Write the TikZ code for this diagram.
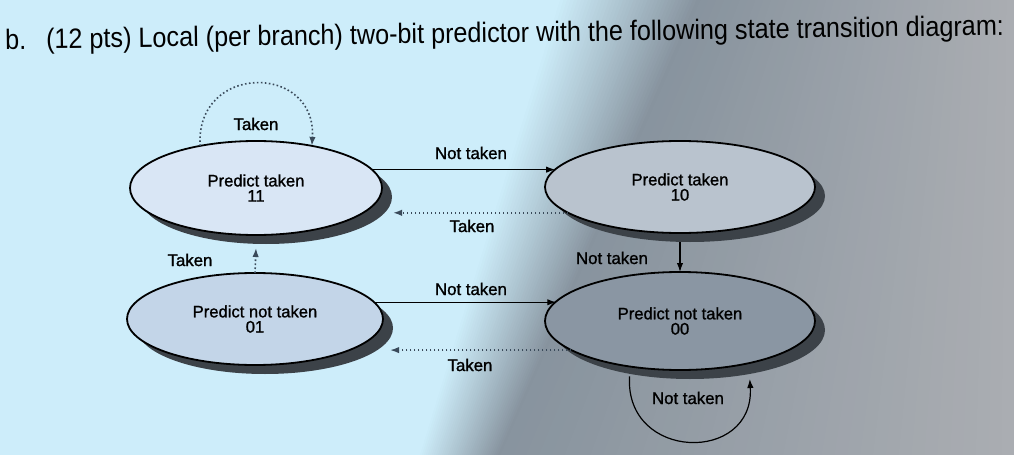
\documentclass[tikz,border=0pt]{standalone}
\usepackage{fontspec}
\setmainfont{Liberation Sans}
\newfontfamily\semib[FakeBold=1.2]{Liberation Sans}
\usetikzlibrary{shapes.geometric,arrows.meta,shadows,calc}
\definecolor{bgL}{HTML}{CDEDFA}
\definecolor{bgM}{HTML}{87939E}
\definecolor{bgR}{HTML}{AAADB2}
\definecolor{fillA}{HTML}{D9E6F5}
\definecolor{fillB}{HTML}{B9C3CE}
\definecolor{fillC}{HTML}{C3D5E8}
\definecolor{fillD}{HTML}{8A96A3}
\definecolor{shadowc}{HTML}{3C4248}
\definecolor{dotc}{HTML}{3A4A5A}
\tikzset{
  state/.style={ellipse, draw=black, line width=0.9pt, inner sep=0pt, outer sep=0pt,
    align=center, font=\semib\fontsize{8.3}{7.6}\selectfont,
    drop shadow={shadow xshift=5pt, shadow yshift=-4.5pt, fill=shadowc, opacity=1}},
  lbl/.style={font=\semib\fontsize{8.4}{9}\selectfont, inner sep=0pt},
  solidarr/.style={draw=black, line width=0.6pt, -{Latex[length=4.5pt,width=3.2pt]}},
  dotarr/.style={draw=dotc, line width=0.8pt, dash pattern=on 0.8pt off 1.2pt,
    -{Latex[length=4.5pt,width=3.2pt]}}
}
\begin{document}
\begin{tikzpicture}[x=0.5pt,y=-0.5pt]
\useasboundingbox (0,0) rectangle (1014,455);
% background: band from light to mid, then mid to right gray
\fill[bgR] (0,0) rectangle (1014,455);
\foreach \i in {40,39,...,1}{
  \pgfmathsetmacro\p{2.5*\i}
  \pgfmathsetmacro\xt{700+7.85*\i}
  \pgfmathsetmacro\xb{500+12.85*\i}
  \fill[bgR!\p!bgM] (0,0) -- (\xt,0) -- (\xb,455) -- (0,455) -- cycle;
}
\foreach \i in {40,39,...,0}{
  \pgfmathsetmacro\p{2.5*\i}
  \pgfmathsetmacro\xt{560+3.5*\i}
  \pgfmathsetmacro\xb{420+2*\i}
  \fill[bgM!\p!bgL] (0,0) -- (\xt,0) -- (\xb,455) -- (0,455) -- cycle;
}
% title
\node[font=\fontsize{14}{16}\selectfont, rotate=0.8, xscale=0.9, inner sep=0pt, anchor=west] (title) at (5,42)
  {b.\hspace{11pt}(12 pts) Local (per branch) two-bit predictor with the following state transition diagram:};
% states
\node[state, fill=fillA, minimum width=126pt, minimum height=47pt] (s11) at (256,188) {Predict taken\\11};
\node[state, fill=fillB, minimum width=135pt, minimum height=46pt] (s10) at (680,187) {Predict taken\\10};
\node[state, fill=fillC, minimum width=128pt, minimum height=46pt] (s01) at (255,319) {Predict not taken\\01};
\node[state, fill=fillD, minimum width=135pt, minimum height=49pt] (s00) at (680,321) {Predict not taken\\00};
% connectors
\draw[solidarr] (s11.9) -- (s11.9 -| s10.172);
\draw[dotarr] (s10.-167) -- ([xshift=5.5pt]s11.east |- s10.-167);
\draw[solidarr] (s01.8) -- (s01.8 -| s00.171);
\draw[dotarr] (s00.-165) -- ([xshift=3.5pt]s01.east |- s00.-165);
\draw[dotarr] (s01.north) -- ([yshift=-6.5pt]s11.south);
\draw[solidarr] ([yshift=-4.5pt]s10.south) -- (s00.north);
\draw[dotarr] (s11.143) .. controls +(-5,-83) and +(5,-83) .. (s11.37);
\draw[solidarr] ([yshift=-5pt]s00.-138) .. controls +(-5,85) and +(5,85) .. ([yshift=-8pt]s00.-31);
% labels
\node[lbl] (l1) at (471,153) {Not taken};
\node[lbl] (l2) at (472,226) {Taken};
\node[lbl] (l3) at (471,289) {Not taken};
\node[lbl] (l4) at (470,365) {Taken};
\node[lbl] (l5) at (190,260) {Taken};
\node[lbl] (l6) at (612,258) {Not taken};
\node[lbl] (l7) at (256,124) {Taken};
\node[lbl] (l8) at (688,398) {Not taken};
\end{tikzpicture}
\end{document}
